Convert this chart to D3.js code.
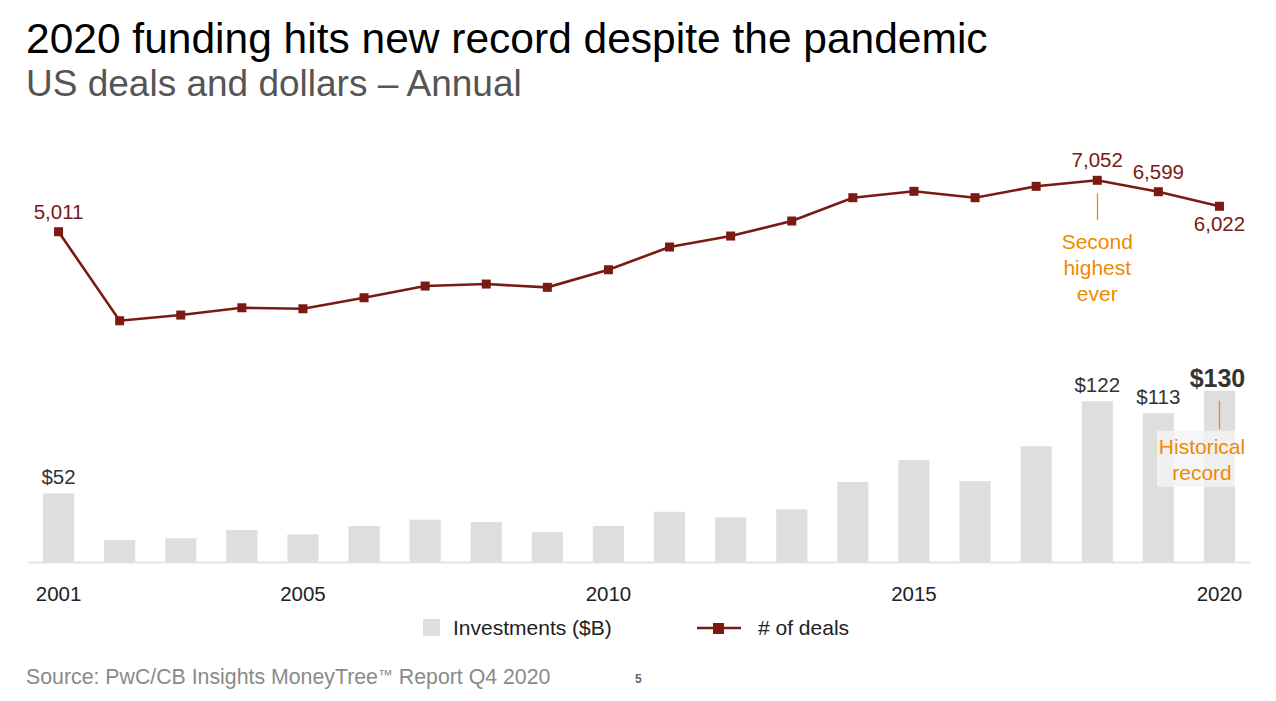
<!DOCTYPE html>
<html>
<head>
<meta charset="utf-8">
<script src="https://cdn.jsdelivr.net/npm/d3@7"></script>
<style>
  html, body { margin: 0; padding: 0; background: #fff; }
  svg { display: block; font-family: "Liberation Sans", Arial, Helvetica, sans-serif; }
</style>
</head>
<body>
<svg id="chart" width="1276" height="701"></svg>
<script>
const years = [2001,2002,2003,2004,2005,2006,2007,2008,2009,2010,2011,2012,2013,2014,2015,2016,2017,2018,2019,2020];
const investments = [52,16.7,18.0,24.3,21.0,27.3,32.1,30.3,22.7,27.3,38.1,33.9,40.0,60.7,77.3,61.4,87.9,122,113,130];
const deals = [5011,1478,1704,1994,1954,2391,2855,2935,2804,3502,4404,4840,5436,6361,6615,6361,6813,7052,6599,6022];
const tickYears = [2001,2005,2010,2015,2020];
const barLabels = [{year:2001,text:"$52"},{year:2018,text:"$122"},{year:2019,text:"$113"},{year:2020,text:"$130",bold:true}];
const dealLabels = [{year:2001,text:"5,011",pos:"above"},{year:2018,text:"7,052",pos:"above"},{year:2019,text:"6,599",pos:"above"},{year:2020,text:"6,022",pos:"below"}];

const svg = d3.select("#chart");
const DARKRED = "#7a1a12", ORANGE = "#ee8a00", BAR = "#dedede";

// Title
svg.append("text").attr("x",26).attr("y",53).attr("font-size",42.5).attr("fill","#000")
  .text("2020 funding hits new record despite the pandemic");
svg.append("text").attr("x",26).attr("y",96).attr("font-size",37).attr("fill","#555")
  .text("US deals and dollars – Annual");

const x = d3.scaleBand().domain(years).range([28,1250]).paddingInner(0.49).paddingOuter(0.245);
const yBar = d3.scaleLinear().domain([0,130]).range([562,390.7]);
const yLine = d3.scaleLinear().domain([0,7052]).range([358,180.3]);
const cx = d => x(d) + x.bandwidth()/2;

// Bars
svg.append("g").selectAll("rect").data(years).join("rect")
  .attr("x", d => x(d)).attr("width", x.bandwidth())
  .attr("y", (d,i) => yBar(investments[i]))
  .attr("height", (d,i) => yBar(0) - yBar(investments[i]))
  .attr("fill", BAR);

// Baseline axis
const axis = d3.axisBottom(x).tickValues(tickYears).tickSize(0).tickPadding(24);
const gAxis = svg.append("g").attr("transform","translate(0,562)").call(axis);
gAxis.select(".domain").attr("stroke","#e3e3e3").attr("stroke-width",2);
gAxis.selectAll("text").attr("font-size",20.5).attr("fill","#222")
  .attr("font-family","Liberation Sans, Arial, sans-serif");

// Line
const line = d3.line().x((d,i)=>cx(years[i])).y(d=>yLine(d));
svg.append("path").datum(deals).attr("d", line).attr("fill","none")
  .attr("stroke",DARKRED).attr("stroke-width",2.6);
svg.append("g").selectAll("rect").data(deals).join("rect")
  .attr("x",(d,i)=>cx(years[i])-4.5).attr("y",d=>yLine(d)-4.5)
  .attr("width",9).attr("height",9).attr("fill",DARKRED);

// Deal labels
dealLabels.forEach(l => {
  const i = years.indexOf(l.year);
  svg.append("text").attr("x",cx(l.year)).attr("y", l.pos==="above" ? yLine(deals[i])-13 : yLine(deals[i])+25)
    .attr("text-anchor","middle").attr("font-size",20.5).attr("fill",DARKRED).text(l.text);
});

// Bar labels
barLabels.forEach(l => {
  const i = years.indexOf(l.year);
  svg.append("text").attr("x",cx(l.year) + (l.bold?-2:0)).attr("y", yBar(investments[i]) - (l.bold?4:9))
    .attr("text-anchor","middle").attr("font-size", l.bold?25:20.5)
    .attr("font-weight", l.bold?"bold":"normal").attr("fill","#333").text(l.text);
});

// Annotation: Second highest ever
const i18 = years.indexOf(2018);
const ax18 = Math.round(cx(2018)) + 0.5;
svg.append("line").attr("x1",ax18).attr("x2",ax18)
  .attr("y1",yLine(deals[i18])+13).attr("y2",yLine(deals[i18])+40)
  .attr("stroke",ORANGE).attr("stroke-width",1.3);
["Second","highest","ever"].forEach((t,k)=>{
  svg.append("text").attr("x",cx(2018)).attr("y",249+k*26).attr("text-anchor","middle")
    .attr("font-size",21).attr("fill",ORANGE).text(t);
});

// Annotation: Historical record
const i20 = years.indexOf(2020);
const ax20 = Math.round(cx(2020)) + 0.5;
svg.append("rect").attr("x",1157).attr("y",431).attr("width",78).attr("height",56)
  .attr("fill","#f4f4f4").attr("fill-opacity",0.8);
svg.append("line").attr("x1",ax20).attr("x2",ax20)
  .attr("y1",yBar(investments[i20])+10).attr("y2",429)
  .attr("stroke",ORANGE).attr("stroke-width",1.3);
["Historical","record"].forEach((t,k)=>{
  svg.append("text").attr("x",1202).attr("y",454+k*26).attr("text-anchor","middle")
    .attr("font-size",21).attr("fill",ORANGE).text(t);
});

// Legend
svg.append("rect").attr("x",423).attr("y",619).attr("width",17).attr("height",17).attr("fill",BAR);
svg.append("text").attr("x",453).attr("y",635).attr("font-size",21).attr("fill","#222").text("Investments ($B)");
svg.append("line").attr("x1",697).attr("x2",741).attr("y1",628).attr("y2",628).attr("stroke",DARKRED).attr("stroke-width",2.6);
svg.append("rect").attr("x",713).attr("y",623).attr("width",11).attr("height",11).attr("fill",DARKRED);
svg.append("text").attr("x",758).attr("y",635).attr("font-size",21).attr("fill","#222").text("# of deals");

// Source
const src = svg.append("text").attr("x",26).attr("y",684).attr("font-size",21.3).attr("fill","#8a8a8a");
src.append("tspan").text("Source: PwC/CB Insights MoneyTree");
src.append("tspan").attr("font-size",15).attr("dy",-4).text("™");
src.append("tspan").attr("dy",4).text(" Report Q4 2020");
svg.append("text").attr("x",635).attr("y",683).attr("font-size",12).attr("font-weight","bold").attr("fill","#666").text("5");
</script>
</body>
</html>
